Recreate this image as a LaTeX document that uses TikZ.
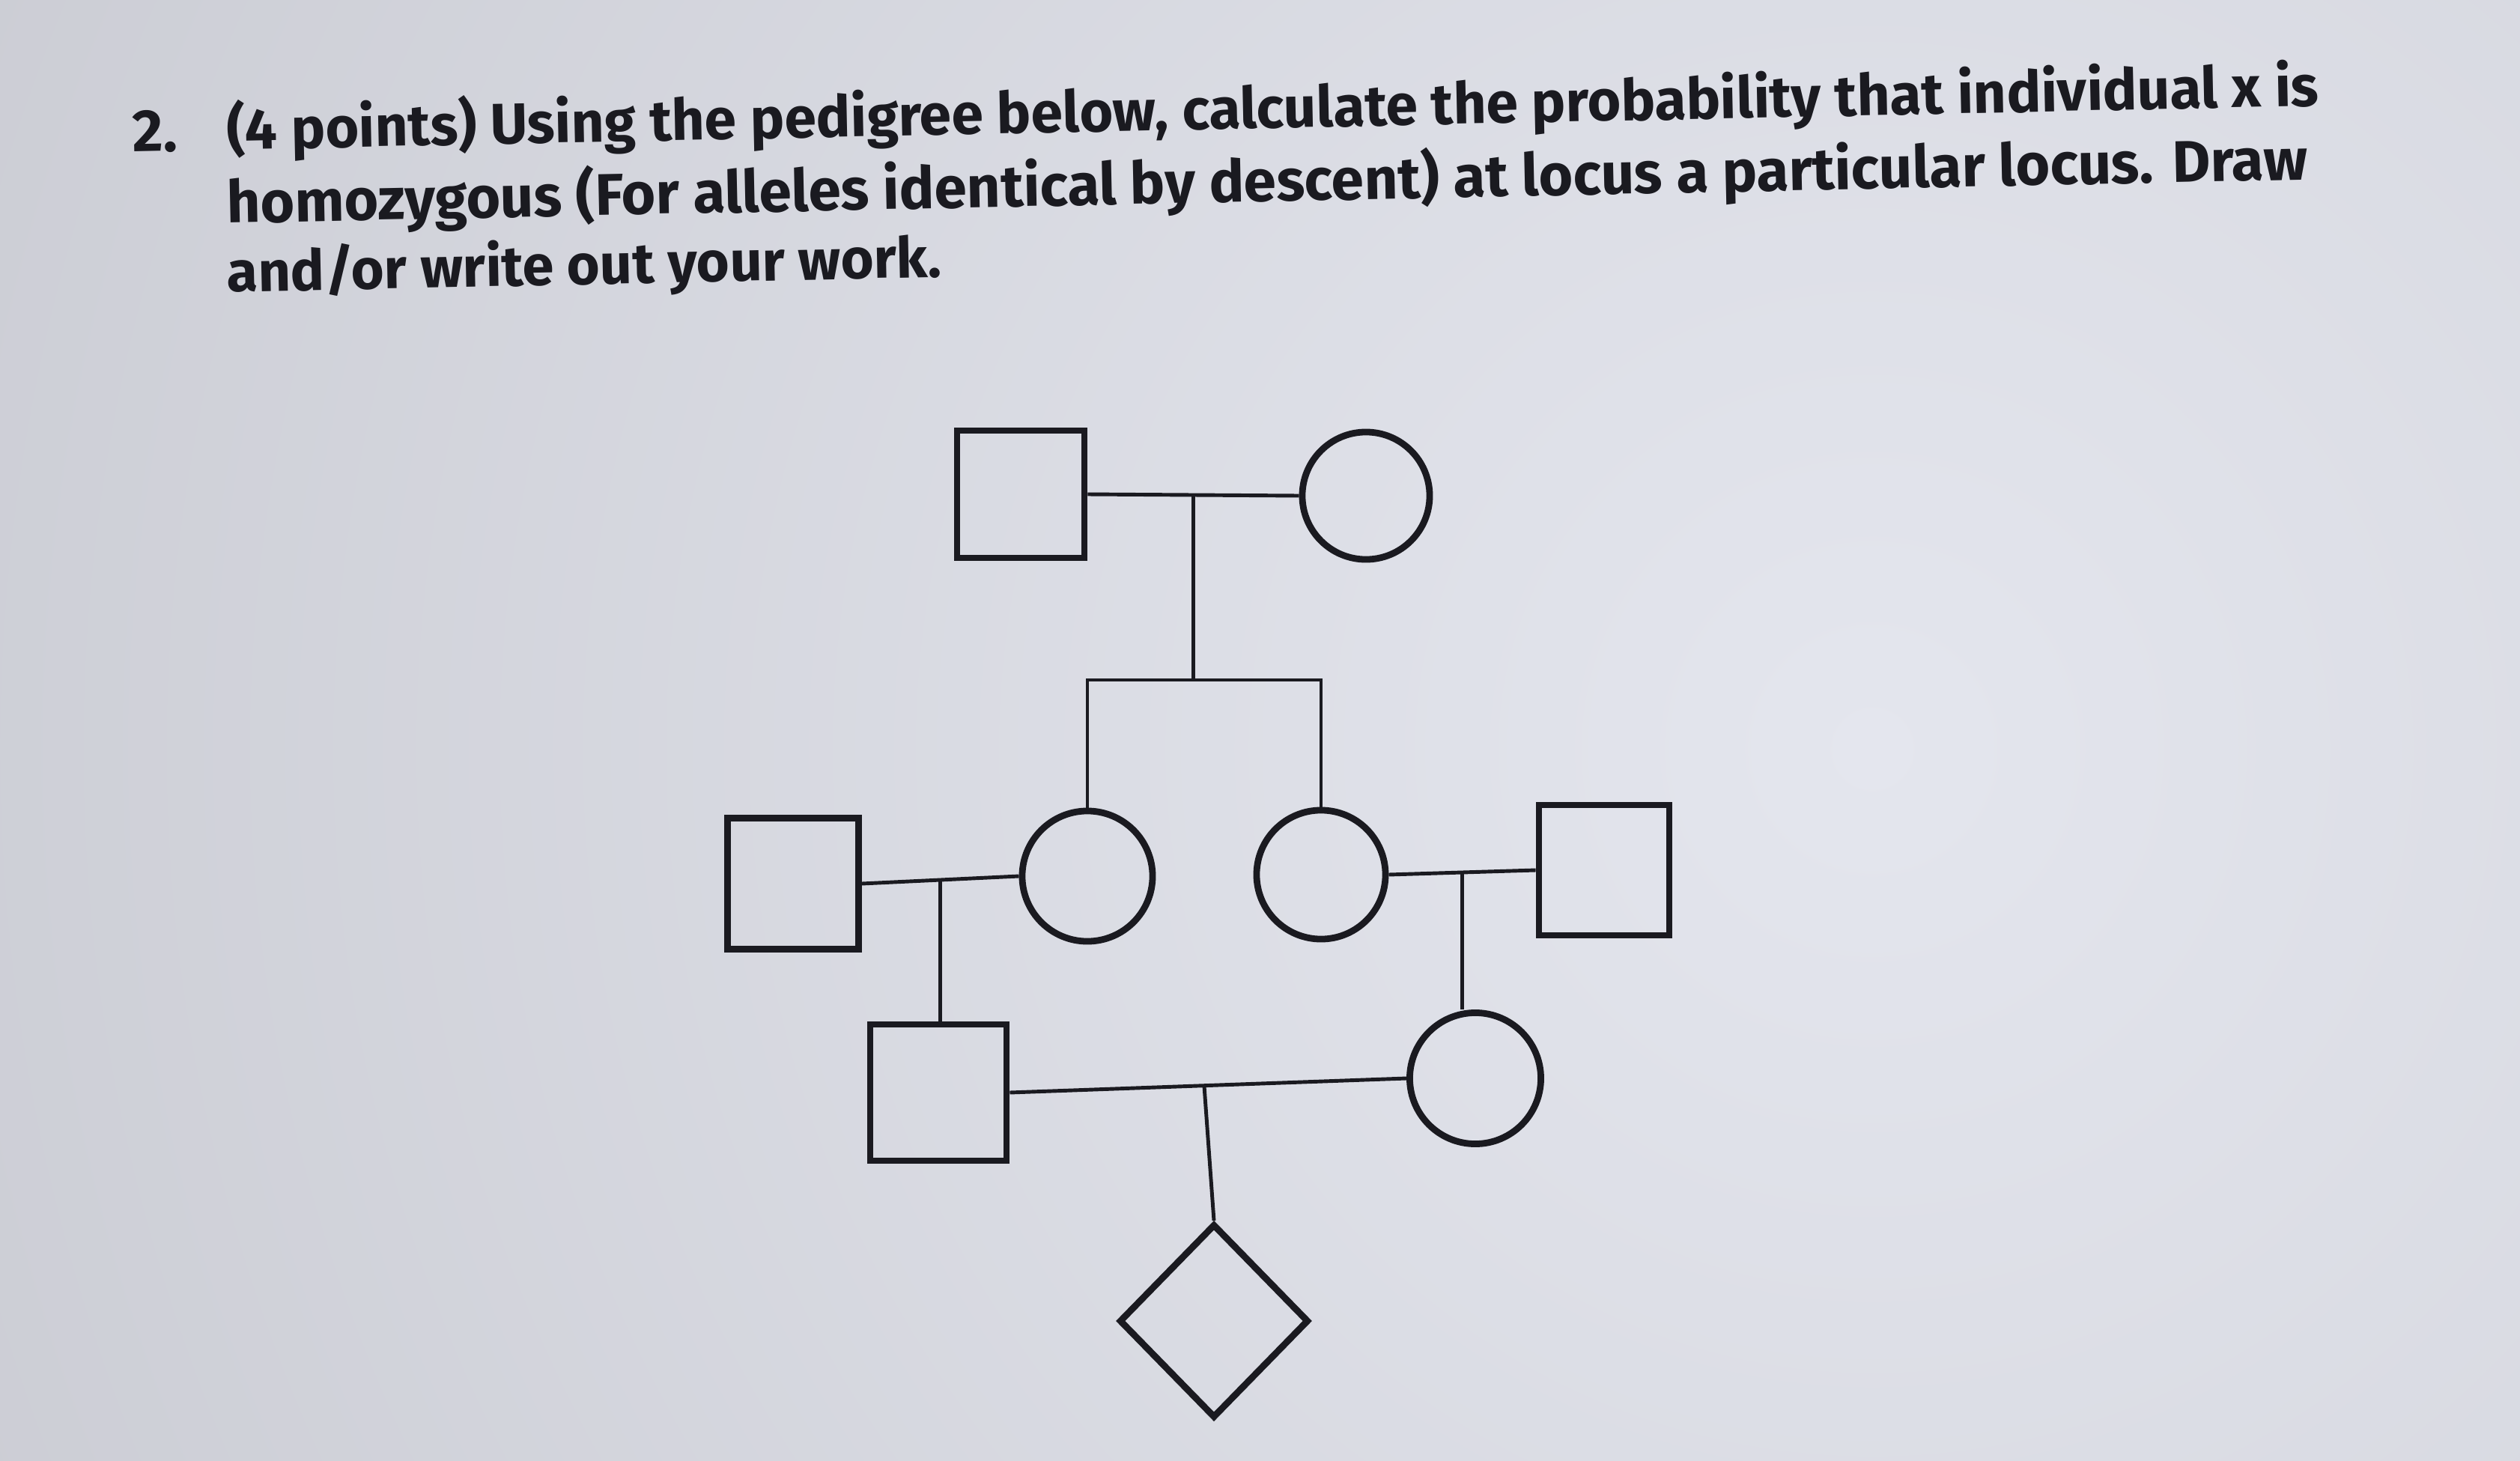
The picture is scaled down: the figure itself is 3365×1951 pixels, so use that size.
\documentclass[tikz,border=0pt]{standalone}
\usepackage{fontspec}
\setmainfont{Fira Sans}
\usetikzlibrary{shapes.geometric,calc}
\definecolor{ink}{RGB}{26,26,32}
\definecolor{paperA}{RGB}{228,230,238}
\definecolor{paperB}{RGB}{184,185,192}
\begin{document}
\begin{tikzpicture}[x=0.01cm,y=-0.01cm,
  male/.style={draw=ink, line width=2.5pt, rectangle, inner sep=0pt},
  female/.style={draw=ink, line width=2.5pt, circle, inner sep=0pt},
  unknown/.style={draw=ink, line width=2.5pt, diamond, aspect=1, inner sep=0pt},
  link/.style={draw=ink, line width=1.4pt},
  qtext/.style={text=ink, inner sep=0pt, anchor=base west, rotate=1.2,
    font=\bfseries\fontsize{19.8pt}{24pt}\selectfont}]
\useasboundingbox (0,0) rectangle (3365,1951);
\begin{scope}
  \clip (0,0) rectangle (3365,1951);
  \shade[inner color=paperA, outer color=paperB] (2500,1000) circle (5000);
\end{scope}

% question text
\node[qtext] (num) at (177,203) {\resizebox{0.60cm}{!}{2.}};
\node[qtext] (l1) at (303,200) {\resizebox{27.92cm}{!}{(4 points) Using the pedigree below, calculate the probability that individual x is}};
\node[qtext] (l2) at (303,298) {\resizebox{27.77cm}{!}{homozygous (For alleles identical by descent) at locus a particular locus. Draw}};
\node[qtext] (l3) at (303,390) {\resizebox{9.54cm}{!}{and/or write out your work.}};

% generation I
\node[male, minimum size=1.70cm] (gf) at (1363,660) {};
\node[female, minimum size=1.70cm] (gm) at (1824,662) {};
% generation II
\node[male, minimum size=1.75cm] (h1) at (1059,1180) {};
\node[female, minimum size=1.74cm] (d1) at (1452,1170) {};
\node[female, minimum size=1.72cm] (d2) at (1764,1168) {};
\node[male, minimum size=1.74cm] (h2) at (2142,1162) {};
% generation III
\node[male, minimum size=1.82cm] (s1) at (1253,1459) {};
\node[female, minimum size=1.75cm] (s2) at (1970,1440) {};
% generation IV
\node[unknown, minimum width=2.53cm, minimum height=2.59cm] (x) at (1621,1764) {};

% connectors
\coordinate (m1) at ($(gf.east)!0.5!(gm.west)$);
\coordinate (sib) at (1598,908);
\draw[link] (gf.east) -- (gm.west);
\draw[link] (m1) -- (m1 |- sib);
\draw[link] (d1.north) -- (d1.north |- sib) -- (d2.north |- sib) -- (d2.north);

\coordinate (m2) at ($(h1.east)!0.5!(d1.west)$);
\draw[link] (h1.east) -- (d1.west);
\draw[link] (m2) -- (m2 |- s1.north);

\coordinate (m3) at ($(d2.east)!0.5!(h2.west)$);
\draw[link] (d2.east) -- (h2.west);
\draw[link] (m3) -- (m3 |- s2.north);

\coordinate (m4) at ($(s1.east)!0.49!(s2.west)$);
\draw[link] (s1.east) -- (s2.west);
\draw[link] (m4) -- (x.north);
\end{tikzpicture}
\end{document}
